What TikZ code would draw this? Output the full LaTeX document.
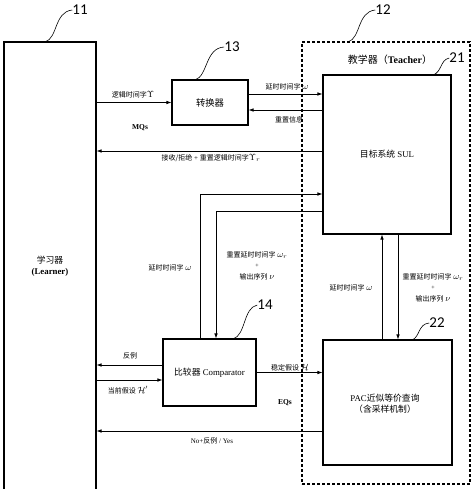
\documentclass[tikz,border=0pt]{standalone}
\usepackage{fontspec}
\setmainfont{Liberation Serif}
\newfontfamily\cjk{Noto Sans CJK SC}
\newfontfamily\numfont{Carlito}
\usetikzlibrary{arrows.meta,calc}
\newcommand{\mth}[1]{{\fontsize{9}{9}\selectfont$#1$}}
\tikzset{
 box/.style={draw, line width=1.1pt, inner sep=0pt},
 arr/.style={line width=0.7pt, -{Latex[length=5pt,width=3.6pt]}},
 ln/.style={line width=0.7pt},
 lbl/.style={font=\fontsize{7}{8}\selectfont, inner sep=0.5pt},
 boxtxt/.style={font=\fontsize{8.8}{10}\selectfont},
 num/.style={font=\numfont\fontsize{15}{16}\selectfont, inner sep=0pt},
 lead/.style={line width=0.6pt},
}
\begin{document}
\begin{tikzpicture}[x=1pt,y=-1pt]
\useasboundingbox (0,0) rectangle (474,489);
\clip (0,0) rectangle (474,489);
% teacher dashed box
\node[draw, dash pattern=on 3pt off 2pt, line width=1.1pt, minimum width=168pt, minimum height=442pt, inner sep=0pt] (teacher) at (386,263) {};
\node[font=\fontsize{10}{12}\selectfont] (tlabel) at (390,60) {{\cjk 教学器（}\textbf{Teacher}{\cjk ）}};
% boxes
\node[box, minimum width=92pt, minimum height=450pt] (learner) at (50,267) {};
\node[boxtxt, align=center] (ltxt) at (50,266) {{\cjk 学习器}\\[1pt]\textbf{(Learner)}};
\node[box, minimum width=76pt, minimum height=45pt, font=\cjk\fontsize{9.3}{10}\selectfont] (conv) at (210,102.5) {转换器};
\node[box, minimum width=128pt, minimum height=159pt] (sul) at (387,154.5) {};
\node[boxtxt] at (sul.center) {{\cjk 目标系统} SUL};
\node[box, minimum width=93pt, minimum height=67pt, boxtxt] (cmp) at (209.5,372.5) {{\cjk 比较器} Comparator};
\node[box, minimum width=129pt, minimum height=125pt] (pac) at (387.5,402.5) {};
\node[boxtxt, align=center] (pactxt) at (385,404) {PAC{\cjk 近似等价查询}\\[1pt]{\cjk （含采样机制）}};
% helper coordinates
\coordinate (y94) at (0,94);
\coordinate (y110) at (0,110);
\coordinate (y151) at (0,151);
\coordinate (y194) at (0,194);
\coordinate (y211) at (0,211);
\coordinate (y365) at (0,365);
\coordinate (y380) at (0,380);
\coordinate (y431) at (0,431);
\coordinate (x200) at (200,0);
\coordinate (x216) at (216,0);
\coordinate (x382) at (382,0);
\coordinate (x398) at (398,0);
% MQ arrows
\draw[arr] (learner.east |- conv.west) -- (conv.west);
\draw[arr] (conv.east |- y94) -- (sul.west |- y94);
\draw[arr] (sul.west |- y110) -- (conv.east |- y110);
\draw[arr] (sul.west |- y151) -- (learner.east |- y151);
\draw[arr] (x200 |- cmp.north) |- (sul.west |- y194);
\draw[arr] (sul.west |- y211) -| (x216 |- cmp.north);
% EQ arrows
\draw[arr] (cmp.west |- y365) -- (learner.east |- y365);
\draw[arr] (learner.east |- y380) -- (cmp.west |- y380);
\draw[arr] (cmp.east) -- (pac.west |- cmp.east);
\draw[arr] (pac.west |- y431) -- (learner.east |- y431);
\draw[arr] (x382 |- pac.north) -- (x382 |- sul.south);
\draw[arr] (x398 |- sul.south) -- (x398 |- pac.north);
% labels
\node[lbl] at (133,95) {{\cjk 逻辑时间字}\mth{\Upsilon}};
\node[lbl] at (287,87) {{\cjk 延时时间字}~\mth{\omega}};
\node[lbl] at (289,120) {\cjk 重置信息};
\node[font=\fontsize{7.5}{9}\selectfont\bfseries] at (140,128) {MQs};
\node[lbl] at (211,158) {{\cjk 接收/拒绝} + {\cjk 重置逻辑时间字}\mth{\Upsilon_r}};
\node[lbl] at (170,268) {{\cjk 延时时间字}~\mth{\omega}};
\node[lbl] at (257,255) {{\cjk 重置延时时间字}~\mth{\omega_r}};
\node[lbl, font=\fontsize{6}{6}\selectfont] at (257,265.5) {+};
\node[lbl] at (257,277) {{\cjk 输出序列}~\mth{\nu}};
\node[lbl] at (130,356) {\cjk 反例};
\node[lbl] at (128,390) {{\cjk 当前假设}~\mth{\mathcal{H}'}};
\node[lbl] at (290,368) {{\cjk 稳定假设}~\mth{\mathcal{H}}};
\node[font=\fontsize{7.5}{9}\selectfont\bfseries] at (285,403) {EQs};
\node[lbl] at (212,441) {No+{\cjk 反例} / Yes};
\node[lbl] at (351,288) {{\cjk 延时时间字}~\mth{\omega}};
\node[lbl] at (433,277) {{\cjk 重置延时时间字}~\mth{\omega_r}};
\node[lbl, font=\fontsize{6}{6}\selectfont] at (433,287.5) {+};
\node[lbl] at (433,299) {{\cjk 输出序列}~\mth{\nu}};
% reference numbers
\node[num] (n11) at (80,10) {11};
\node[num] (n12) at (383,10) {12};
\node[num] (n13) at (232,47) {13};
\node[num] (n21) at (457,58) {21};
\node[num] (n14) at (265,305) {14};
\node[num] (n22) at (437,323) {22};
\draw[lead] (45,42) .. controls (58,38) and (54,12) .. (n11.west);
\draw[lead] (348,42) .. controls (361,38) and (357,12) .. (n12.west);
\draw[lead] (195,80) .. controls (208,76) and (205,48) .. (n13.west);
\draw[lead] (433,75) .. controls (442,72) and (440,60) .. (n21.west);
\draw[lead] (233,339) .. controls (246,335) and (243,308) .. (n14.west);
\draw[lead] (412,340) .. controls (420,337) and (418,324) .. (n22.west);
\end{tikzpicture}
\end{document}
